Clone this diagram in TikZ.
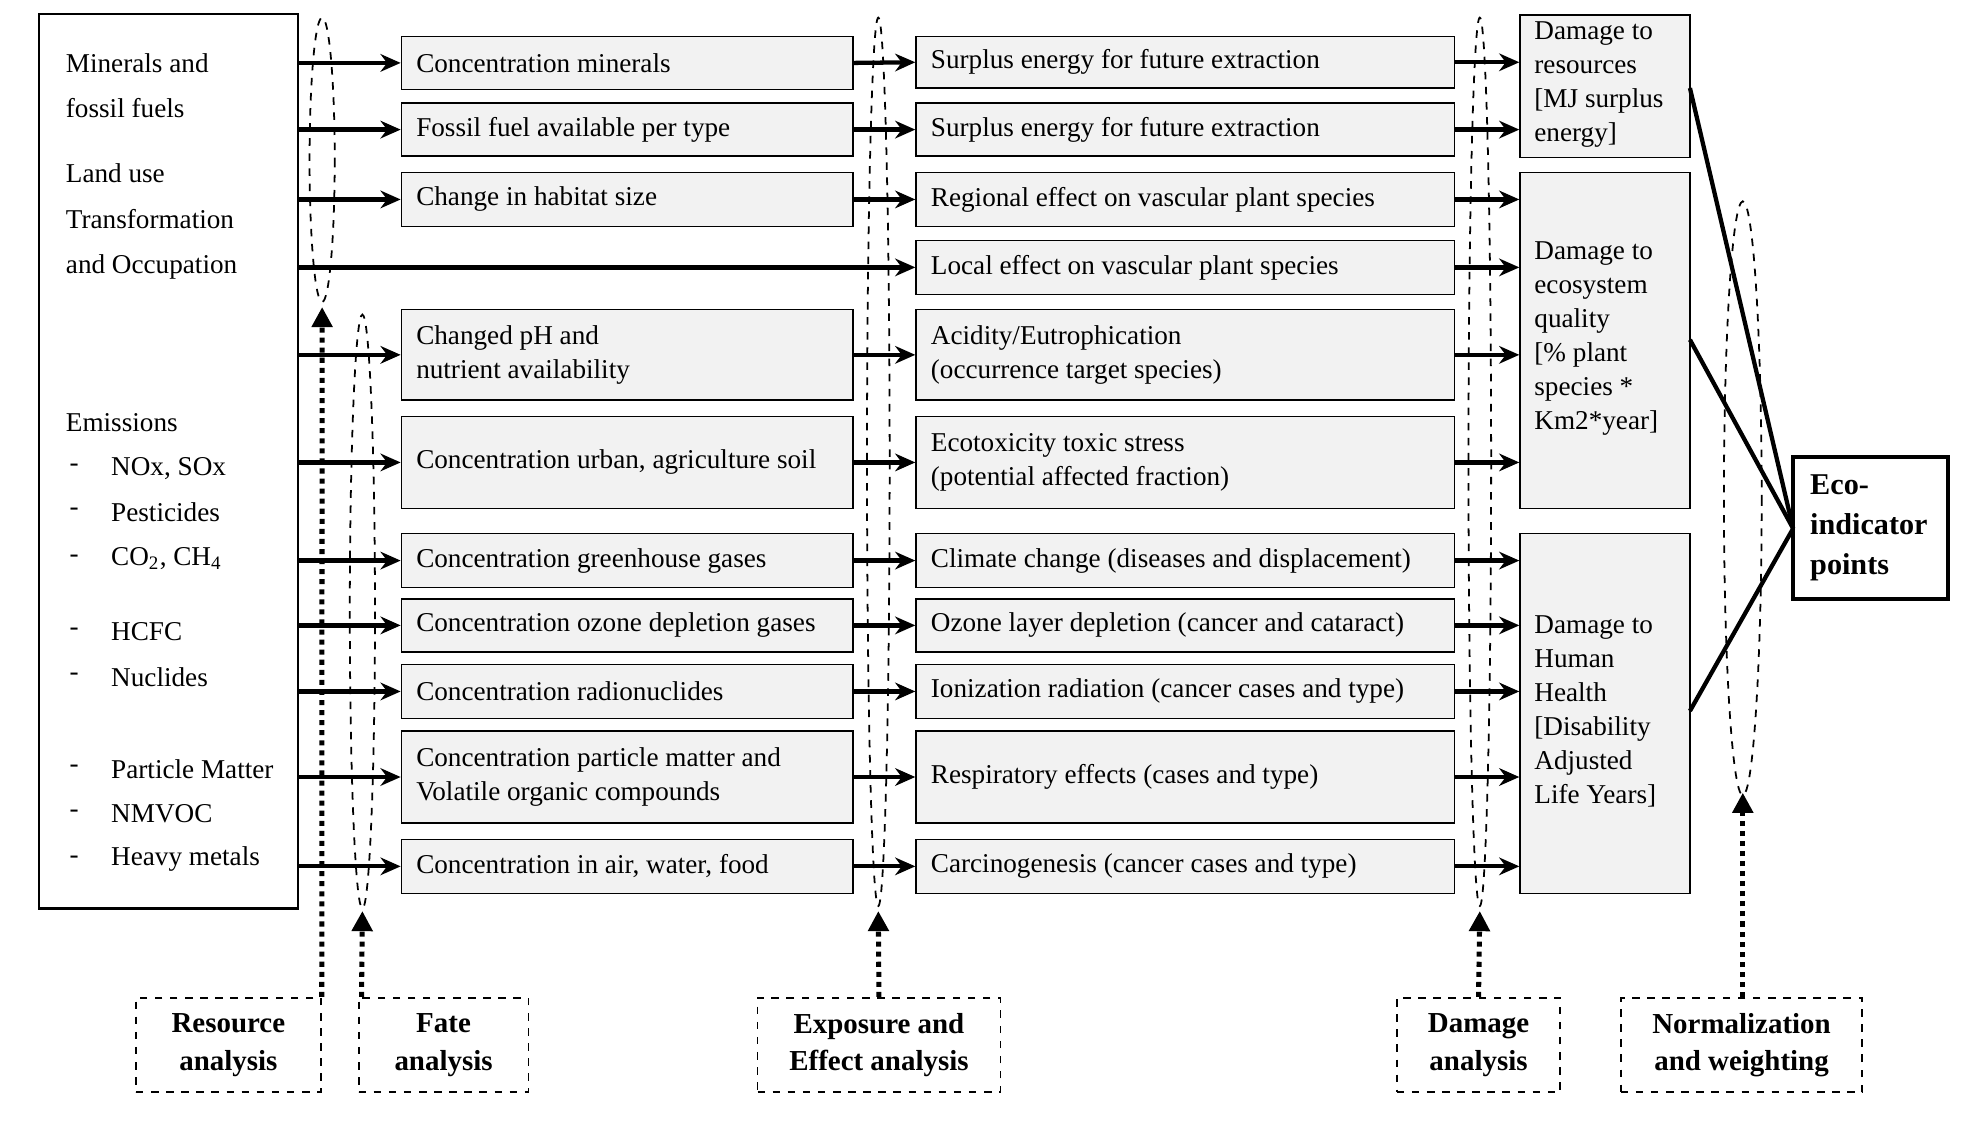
\documentclass[tikz,border=0pt]{standalone}
\usepackage{fontspec}
\setmainfont{Liberation Serif}
\usetikzlibrary{fit,arrows.meta}
\begin{document}
\begin{tikzpicture}[x=0.5pt,y=-0.5pt,
 box/.style={draw,fill=gray!10,inner sep=0pt,line width=0.6pt},
 wbox/.style={draw,fill=white,inner sep=0pt,line width=0.9pt},
 txt/.style={anchor=west,font=\fontsize{10.8}{13.5}\selectfont,align=left,inner sep=0pt},
 arr/.style={-{Stealth[length=8pt,width=7pt]},line width=1.7pt},
 con/.style={line width=1.7pt},
 dot/.style={-{Triangle[length=8pt,width=8pt]},line width=2pt,dotted},
 ell/.style={dashed,line width=0.7pt},
 lab/.style={draw,dashed,line width=0.7pt,inner sep=0pt}]
\useasboundingbox (0,0) rectangle (1560,897);
% left box
\node[wbox,fit={(31,11)(237,722)}] (L) {};
\node[txt,anchor=north west,font=\fontsize{10.8}{18}\selectfont] at (52,42) {Minerals and\\fossil fuels};
\node[txt,anchor=north west,font=\fontsize{10.8}{18}\selectfont] at (52,130) {Land use\\Transformation\\and Occupation};
\node[txt] (em) at (52,336) {Emissions};
\foreach \y/\t in {372/{NOx, SOx},407/Pesticides,444/{CO\textsubscript{2}, CH\textsubscript{4}},502/HCFC,538/Nuclides,611/Particle Matter,647/NMVOC,683/Heavy metals}{
 \node[txt] at (55,\y) {-}; \node[txt] at (88,\y) {\t};}
% column 1
\foreach \n/\a/\b/\t in {a1/29/71/Concentration minerals,a2/82/124/Fossil fuel available per type,a3/137/180/Change in habitat size,a5/246/318/{Changed pH and\\nutrient availability},a6/331/404/{Concentration urban, agriculture soil},a7/424/467/Concentration greenhouse gases,a8/476/518/Concentration ozone depletion gases,a9/528/571/Concentration radionuclides,a10/581/654/{Concentration particle matter and\\Volatile organic compounds},a11/667/710/{Concentration in air, water, food}}{
 \node[box,fit={(319,\a)(678,\b)}] (\n) {};
 \node[txt] at ([xshift=6pt]\n.west) {\t};}
% column 2
\foreach \n/\a/\b/\t in {b1/29/70/Surplus energy for future extraction,b2/82/124/Surplus energy for future extraction,b3/137/180/Regional effect on vascular plant species,b4/191/234/Local effect on vascular plant species,b5/246/318/{Acidity/Eutrophication\\(occurrence target species)},b6/331/404/{Ecotoxicity toxic stress\\(potential affected fraction)},b7/424/467/Climate change (diseases and displacement),b8/476/518/Ozone layer depletion (cancer and cataract),b9/528/571/Ionization radiation (cancer cases and type),b10/581/654/Respiratory effects (cases and type),b11/667/710/Carcinogenesis (cancer cases and type)}{
 \node[box,fit={(728,\a)(1156,\b)}] (\n) {};
 \node[txt] at ([xshift=6pt]\n.west) {\t};}
% damage boxes
\node[box,fit={(1208,12)(1343,125)}] (d1) {};
\node[txt,anchor=north west] at (1219,17) {Damage to\\resources\\{[}MJ surplus\\energy{]}};
\node[box,fit={(1208,137)(1343,404)}] (d2) {};
\node[txt,anchor=north west] at (1219,192) {Damage to\\ecosystem\\quality\\{[}\% plant\\species *\\Km2*year{]}};
\node[box,fit={(1208,424)(1343,710)}] (d3) {};
\node[txt,anchor=north west] at (1219,489) {Damage to\\Human\\Health\\{[}Disability\\Adjusted\\Life Years{]}};
\node[draw,line width=1.5pt,fit={(1425,363)(1548,476)},inner sep=0pt] (E) {};
\node[font=\bfseries\fontsize{12}{16}\selectfont,align=left,anchor=west] at ([xshift=4pt]E.west) {Eco-\\indicator\\points};
% arrows
\foreach \n in {a1,a2,a3,a5,a6,a7,a8,a9,a10,a11}{\draw[arr] (L.east|-\n.west) -- (\n.west);}
\draw[arr] (L.east|-b4.west) -- (b4.west);
\foreach \i in {1,2,3,5,6,7,8,9,10,11}{\draw[arr] (a\i.east) -- (b\i.west);}
\foreach \i/\d in {1/d1,2/d1,3/d2,4/d2,5/d2,6/d2,7/d3,8/d3,9/d3,10/d3,11/d3}{\draw[arr] (b\i.east) -- (\d.west|-b\i.east);}
\coordinate (e1) at (1425,420);
\draw[con] (1343,70) -- (e1); \draw[con] (1343,270) -- (e1); \draw[con] (1343,565) -- (e1);
% ellipses
\draw[ell] (256,127) ellipse [x radius=10, y radius=113];
\draw[ell] (288,486) ellipse [x radius=10, y radius=236];
\draw[ell] (698,367) ellipse [x radius=9, y radius=353];
\draw[ell] (1176,367) ellipse [x radius=9, y radius=353];
\draw[ell] (1385,396) ellipse [x radius=15, y radius=236];
% bottom labels
\foreach \n/\a/\b/\t in {l1/108/255/{Resource\\analysis},l2/285/420/{Fate\\analysis},l3/602/795/{Exposure and\\Effect analysis},l4/1110/1240/{Damage\\analysis},l5/1288/1480/{Normalization\\and weighting}}{
 \node[lab,fit={(\a,793)(\b,868)}] (\n) {};
 \node[font=\bfseries\fontsize{11.5}{15}\selectfont,align=center] at (\n) {\t};}
\coordinate (t1) at (256,244); \coordinate (t2) at (288,724); \coordinate (t3) at (698,724); \coordinate (t4) at (1176,724); \coordinate (t5) at (1385,630);
\draw[dot] (l1.north east) -- (t1);
\draw[dot] ([xshift=1.5pt]l2.north west) -- (t2);
\draw[dot] (l3.north) -- (t3);
\draw[dot] (l4.north) -- (t4);
\draw[dot] (t5|-l5.north) -- (t5);
\end{tikzpicture}
\end{document}
